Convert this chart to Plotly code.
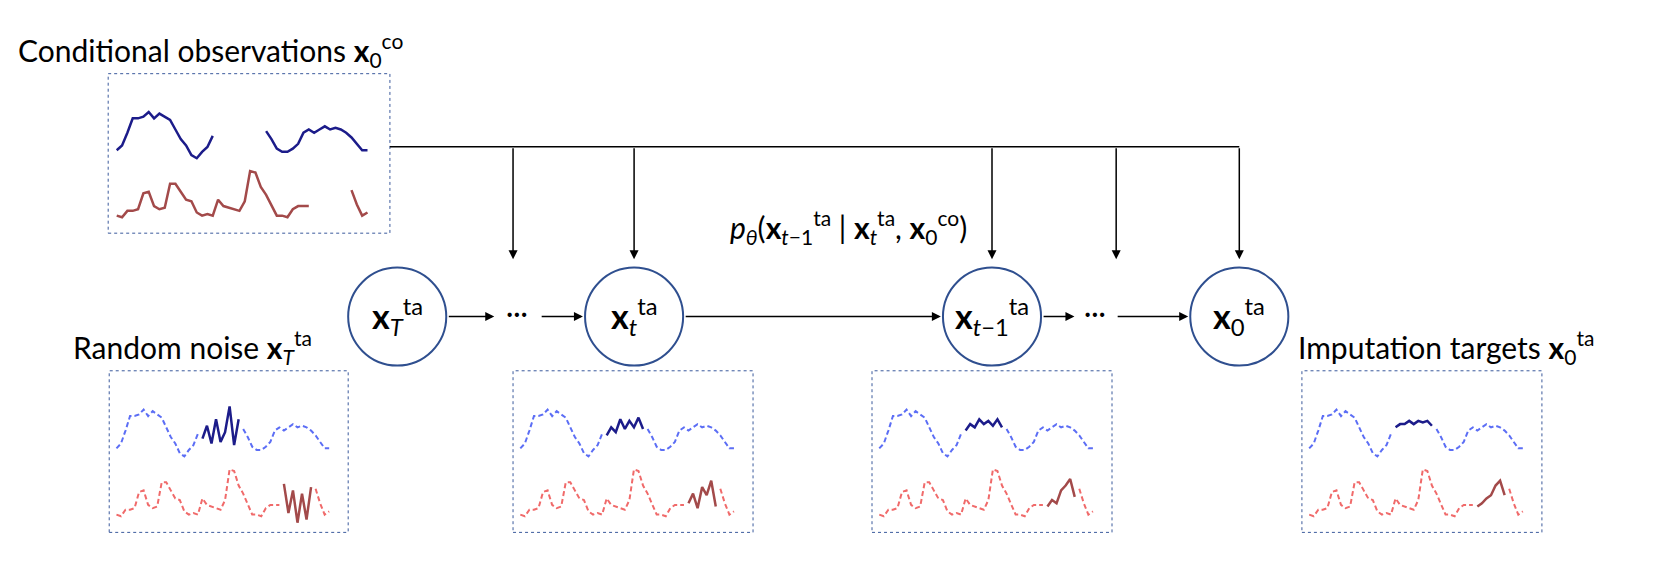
import plotly.graph_objects as go

# ----------------------------------------------------
# Data: two series (box units 0-10)
# ----------------------------------------------------
idx = list(range(48))
blue_obs = [5.2, 5.5, 6.3, 7.2, 7.2, 7.3, 7.6, 7.2, 7.5, 7.3, 7.1, 6.5, 5.9, 5.5, 4.9, 4.7, 5.1, 5.4, 6.1,
            None, None, None, None, None, None, None, None, None,
            6.4, 5.9, 5.3, 5.1, 5.1, 5.3, 5.6, 6.3, 6.5, 6.3, 6.5, 6.7, 6.5, 6.6, 6.5, 6.3, 6.0, 5.6, 5.2, 5.2]
red_obs = [1.1, 1.0, 1.4, 1.4, 1.5, 2.5, 2.6, 1.7, 1.5, 1.6, 3.1, 3.1, 2.6, 2.1, 2.0, 1.3, 1.1, 1.2, 1.1,
           2.1, 1.7, 1.6, 1.5, 1.4, 2.0, 3.9, 3.8, 2.9, 2.4, 1.7, 1.1, 1.1, 1.0, 1.5, 1.7, 1.7, 1.7,
           None, None, None, None, None, None, None,
           2.7, 1.8, 1.1, 1.3]

blue_ta_idx = list(range(19, 28))
red_ta_idx = list(range(37, 44))

# target segments at each diffusion step
blue_ta = {
    "noise": [5.8, 6.6, 5.5, 7.0, 5.6, 6.2, 7.8, 5.4, 7.0],
    "t":     [6.0, 6.5, 6.2, 7.0, 6.4, 6.9, 6.5, 7.1, 6.4],
    "t-1":   [6.3, 6.7, 6.5, 7.0, 6.7, 6.9, 6.6, 7.0, 6.5],
    "0":     [6.5, 6.7, 6.7, 6.9, 6.7, 6.9, 6.8, 6.9, 6.6],
}
red_ta = {
    "noise": [3.0, 1.2, 2.6, 0.6, 2.4, 0.8, 2.8],
    "t":     [1.8, 2.4, 1.5, 2.8, 2.3, 3.2, 1.6],
    "t-1":   [1.6, 2.0, 1.8, 2.6, 2.9, 3.3, 2.2],
    "0":     [1.6, 1.8, 2.1, 2.3, 2.9, 3.2, 2.3],
}

# boxes: (key, left, top, right, bottom) in reference frame units
boxes = [
    ("co", 96, 63, 366, 216),
    ("noise", 97, 348, 326, 503),
    ("t", 484, 348, 714, 503),
    ("t-1", 828, 348, 1058, 503),
    ("0", 1240, 348, 1470, 503),
]

W, H = 1610, 541
NAVY, BROWN = "#1c1c8a", "#a34a4a"
LBLUE, LRED = "#5c6ef5", "#f06a6a"
FONT = "Lato"

fig = go.Figure()
fig.add_trace(go.Scatter(x=[0, W], y=[0, H], mode="markers", marker=dict(opacity=0),
                         hoverinfo="skip", showlegend=False))

layout_axes = {}
shapes = []
for n, (key, l, t, r, b) in enumerate(boxes, start=2):
    xa, ya = f"x{n}", f"y{n}"
    layout_axes[f"xaxis{n}"] = dict(domain=[l / W, r / W], range=[-1.6, 51.2], visible=False, anchor=ya)
    layout_axes[f"yaxis{n}"] = dict(domain=[(H - b) / H, (H - t) / H], range=[0, 10], visible=False, anchor=xa)
    shapes.append(dict(type="rect", xref=f"{xa} domain", yref=f"{ya} domain", x0=0, x1=1, y0=0, y1=1,
                       line=dict(color="#3b5a9c", width=1, dash="dot")))
    if key == "co":
        fig.add_trace(go.Scatter(x=idx, y=blue_obs, mode="lines", line=dict(color=NAVY, width=2.5),
                                 xaxis=xa, yaxis=ya, showlegend=False))
        fig.add_trace(go.Scatter(x=idx, y=red_obs, mode="lines", line=dict(color=BROWN, width=2.5),
                                 xaxis=xa, yaxis=ya, showlegend=False))
    else:
        fig.add_trace(go.Scatter(x=idx, y=blue_obs, mode="lines", line=dict(color=LBLUE, width=2, dash="5px,3px"),
                                 xaxis=xa, yaxis=ya, showlegend=False))
        fig.add_trace(go.Scatter(x=idx, y=red_obs, mode="lines", line=dict(color=LRED, width=2, dash="5px,3px"),
                                 xaxis=xa, yaxis=ya, showlegend=False))
        fig.add_trace(go.Scatter(x=blue_ta_idx, y=blue_ta[key], mode="lines",
                                 line=dict(color=NAVY, width=2.5), xaxis=xa, yaxis=ya, showlegend=False))
        fig.add_trace(go.Scatter(x=red_ta_idx, y=red_ta[key], mode="lines",
                                 line=dict(color=BROWN, width=2.5), xaxis=xa, yaxis=ya, showlegend=False))

# circles (nodes)
node_x = [373, 600, 943, 1180]
node_y = 296
R = 47
node_labels = ["<b>x</b><sub><i>T</i></sub><sup>ta</sup>", "<b>x</b><sub><i>t</i></sub><sup>ta</sup>",
               "<b>x</b><sub><i>t</i>−1</sub><sup>ta</sup>", "<b>x</b><sub>0</sub><sup>ta</sup>"]
for cx in node_x:
    shapes.append(dict(type="circle", xref="x", yref="y", x0=cx - R, x1=cx + R, y0=node_y - R, y1=node_y + R,
                       line=dict(color="#2f4f8f", width=2)))

shapes.append(dict(type="line", xref="x", yref="y", x0=366, x1=1180, y0=133, y1=133,
                   line=dict(color="black", width=1.5)))

annotations = []
for cx, lab in zip(node_x, node_labels):
    annotations.append(dict(x=cx, y=node_y, xref="x", yref="y", text=lab, showarrow=False,
                            font=dict(family=FONT, size=34, color="black")))


def arrow(x0, y0, x1, y1):
    annotations.append(dict(x=x1, y=y1, ax=x0, ay=y0, xref="x", yref="y", axref="x", ayref="y",
                            text="", showarrow=True, arrowhead=2, arrowsize=1.2, arrowwidth=1.5,
                            arrowcolor="black"))


arrow(421, 296, 466, 296)
arrow(510, 296, 551, 296)
arrow(648, 296, 894, 296)
arrow(991, 296, 1022, 296)
arrow(1062, 296, 1131, 296)
for ex in [488, 1042]:
    annotations.append(dict(x=ex, y=292, xref="x", yref="y", text="···", showarrow=False,
                            font=dict(family=FONT, size=28, color="black")))
for vx in [484, 600, 943, 1062, 1180]:
    arrow(vx, 133, vx, 241)

texts = [
    (8, 40, "Conditional observations <b>x</b><sub>0</sub><sup>co</sup>", "left"),
    (60, 325, "Random noise <b>x</b><sub><i>T</i></sub><sup>ta</sup>", "left"),
    (1234, 325, "Imputation targets <b>x</b><sub>0</sub><sup>ta</sup>", "left"),
    (805, 210, "<i>p</i><sub><i>θ</i></sub>(<b>x</b><sub><i>t</i>−1</sub><sup>ta</sup> | "
               "<b>x</b><sub><i>t</i></sub><sup>ta</sup>, <b>x</b><sub>0</sub><sup>co</sup>)", "center"),
]
for tx, ty, txt, anc in texts:
    annotations.append(dict(x=tx, y=ty, xref="x", yref="y", text=txt, showarrow=False, xanchor=anc,
                            font=dict(family=FONT, size=30, color="black")))

fig.update_layout(
    width=1680, height=564,
    margin=dict(l=0, r=0, t=0, b=0),
    paper_bgcolor="white", plot_bgcolor="white",
    xaxis=dict(range=[0, W], domain=[0, 1], visible=False),
    yaxis=dict(range=[H, 0], domain=[0, 1], visible=False),
    shapes=shapes, annotations=annotations,
    showlegend=False,
    **layout_axes
)

fig.write_html("out.html")
